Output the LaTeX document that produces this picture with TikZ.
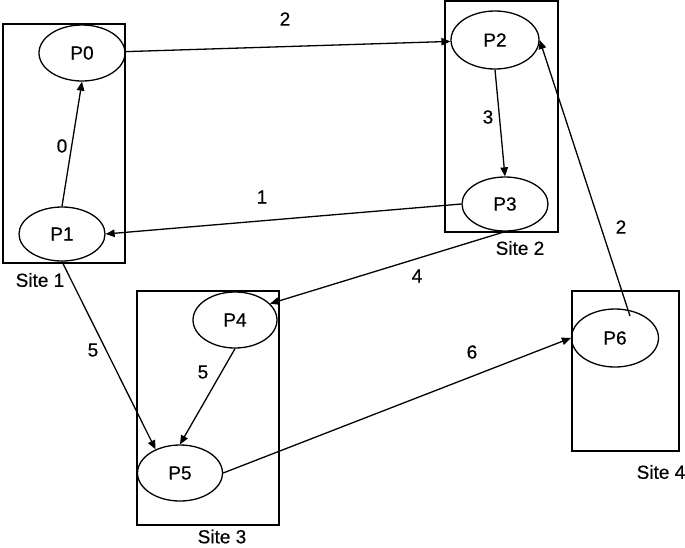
\documentclass[tikz,border=0pt]{standalone}
\usepackage{fontspec}
\setmainfont{Liberation Sans}[FakeBold=0.5]
\usetikzlibrary{shapes.geometric,arrows.meta}
\begin{document}
\begin{tikzpicture}[x=1pt,y=-1pt,
  every node/.style={font=\fontsize{19}{22}\selectfont},
  proc/.style={draw,ellipse,line width=1.3pt,inner sep=0pt},
  site/.style={draw,rectangle,line width=1.3pt,inner sep=0pt},
  msg/.style={line width=1.3pt,-{Triangle[length=9pt,width=7.5pt]}},
  lab/.style={inner sep=0pt}]
\useasboundingbox (0,0) rectangle (685,547);
% sites
\node[site,minimum width=122pt,minimum height=239pt] (site1) at (64,143.5) {};
\node[site,minimum width=113pt,minimum height=231pt] (site2) at (501.5,116.5) {};
\node[site,minimum width=142pt,minimum height=234pt] (site3) at (208,408) {};
\node[site,minimum width=107pt,minimum height=160pt] (site4) at (625.5,371) {};
\node[lab] (s1) at (40,280) {Site 1};
\node[lab] (s2) at (520,248) {Site 2};
\node[lab] (s3) at (222,536.5) {Site 3};
\node[lab] (s4) at (661,472) {Site 4};
% processes
\node[proc,minimum width=86pt,minimum height=56pt] (P0) at (82,53) {P0};
\node[proc,minimum width=86pt,minimum height=54pt] (P1) at (62,234) {P1};
\node[proc,minimum width=88pt,minimum height=58pt] (P2) at (495,40) {P2};
\node[proc,minimum width=86pt,minimum height=54pt] (P3) at (505,204) {P3};
\node[proc,minimum width=84pt,minimum height=56pt] (P4) at (235,320) {P4};
\node[proc,minimum width=85pt,minimum height=56pt] (P5) at (180,473) {P5};
\node[proc,minimum width=87pt,minimum height=58pt] (P6) at (615,338) {P6};
\coordinate (p6s) at (630,316);
% messages
\draw[msg] (P0) -- (P2);
\draw[msg] (P1.north) -- (P0.south);
\draw[msg] (P3.west) -- (P1.east);
\draw[msg] (P2.south) -- (P3.north);
\draw[msg] (P3.south) -- (P4.25);
\draw[msg] (P1.south) -- (P5.136);
\draw[msg] (P4.south) -- (P5.north);
\draw[msg] (P5.east) -- (P6.west);
\draw[msg] (p6s) -- (P2.east);
% labels
\node[lab] (m2) at (285,19) {2};
\node[lab] (m0) at (62,146) {0};
\node[lab] (m3) at (488,117) {3};
\node[lab] (m1) at (262,197) {1};
\node[lab] (m4) at (417,276) {4};
\node[lab] (m5a) at (93,350) {5};
\node[lab] (m5b) at (203,372) {5};
\node[lab] (m6) at (472,352) {6};
\node[lab] (m2b) at (621,227) {2};
\end{tikzpicture}
\end{document}
